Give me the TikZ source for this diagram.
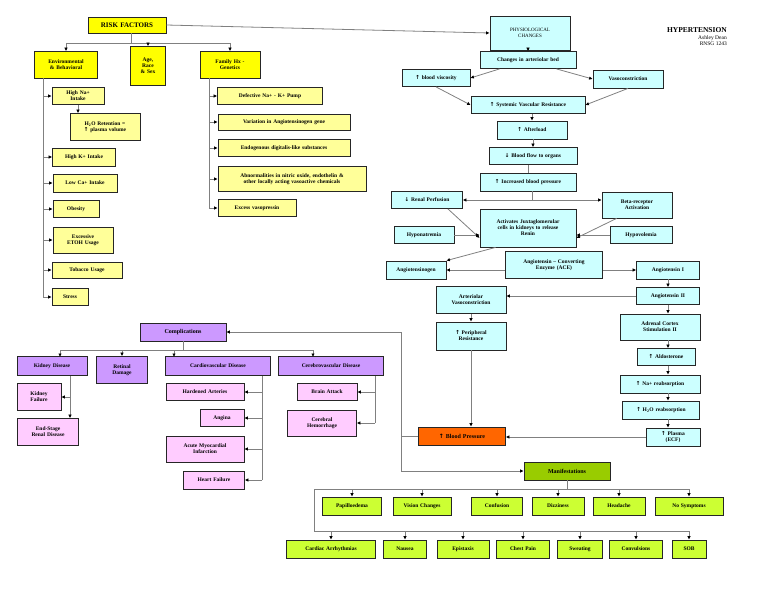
\documentclass[tikz,border=0pt]{standalone}
\usepackage{fontspec}
\setmainfont{Liberation Serif}
\newfontfamily\symf{DejaVu Sans}
\newcommand\uarr{{\symf ↑}}
\newcommand\darr{{\symf ↓}}
\usetikzlibrary{arrows.meta,shadows}
\definecolor{ylw}{HTML}{FFFF00}
\definecolor{lylw}{HTML}{FFFF99}
\definecolor{cyn}{HTML}{CCFFFF}
\definecolor{prp}{HTML}{CC99FF}
\definecolor{pnk}{HTML}{FFCCFF}
\definecolor{grn}{HTML}{99CC00}
\definecolor{lgrn}{HTML}{CCFF33}
\definecolor{org}{HTML}{FF6600}
\tikzset{
  bx/.style={draw=black!85,line width=0.8pt,align=center,inner xsep=0pt,inner ysep=1pt,
    font=\fontsize{5.5}{6}\selectfont\bfseries,
    drop shadow={shadow xshift=0.8pt,shadow yshift=-0.8pt,fill=black!60,opacity=1}},
  sz/.style 2 args={minimum width=#1pt,minimum height=#2pt,text width=#1pt},
  yb/.style={bx,fill=ylw}, lyb/.style={bx,fill=lylw},
  cb/.style={bx,fill=cyn}, pb/.style={bx,fill=prp}, pkb/.style={bx,fill=pnk},
  gb/.style={bx,fill=grn}, lgb/.style={bx,fill=lgrn}, ob/.style={bx,fill=org},
  ln/.style={draw=black!50,line width=0.8pt},
  arr/.style={ln,-{Latex[length=3.5pt,width=3.5pt,color=black]}},
}
\begin{document}
\begin{tikzpicture}[x=1pt,y=-1pt]
\useasboundingbox (0,0) rectangle (768,594);
% ---------- Risk factors
\node[yb,sz={78}{16},font=\fontsize{7}{8}\selectfont\bfseries] (rf) at (127,25) {RISK FACTORS};
\node[yb,sz={63}{27}] (env) at (66,65) {Environmental\\\& Behavioral};
\node[yb,sz={35}{39}] (age) at (148,66) {Age,\\Race\\\& Sex};
\node[yb,sz={60}{27}] (fam) at (230,65) {Family Hx -\\Genetics};
\coordinate (rfj) at (131,43);
\draw[ln] (rf.south -| rfj) -- (rfj);
\draw[ln] (env.north |- rfj) -- (fam.north |- rfj);
\draw[arr] (env.north |- rfj) -- (env.north);
\draw[arr] (age.north |- rfj) -- (age.north);
\draw[arr] (fam.north |- rfj) -- (fam.north);

\node[lyb,sz={52}{17}] (hna) at (78,96) {High Na+\\Intake};
\node[lyb,sz={70}{27}] (h2o) at (105,127) {H\textsubscript{2}O Retention =\\\uarr{} plasma volume};
\node[lyb,sz={63}{18}] (hk) at (84,157) {High K+ Intake};
\node[lyb,sz={64}{18}] (lca) at (85,183) {Low Ca+ Intake};
\node[lyb,sz={46}{17}] (obs) at (76,209) {Obesity};
\node[lyb,sz={60}{26}] (eto) at (83,240) {Excessive\\ETOH Usage};
\node[lyb,sz={70}{16}] (tob) at (87,270) {Tobacco Usage};
\node[lyb,sz={36}{17}] (str) at (70,297) {Stress};
\coordinate (envx) at (43,78);
\draw[ln] (envx) -- (envx |- str);
\foreach \n in {hna,hk,lca,obs,eto,tob,str} \draw[arr] (envx |- \n) -- (\n.west);
\draw[arr] (hna.south) -- (hna.south |- h2o.north);

\node[lyb,sz={105}{17}] (f1) at (270,96) {Defective Na+ - K+ Pump};
\node[lyb,sz={132}{16}] (f2) at (284,122) {Variation in Angiotensinogen gene};
\node[lyb,sz={132}{17}] (f3) at (284,148) {Endogenous digitalis-like substances};
\node[lyb,sz={148}{25}] (f4) at (292,179) {Abnormalities in nitric oxide, endothelin \&\\other locally acting vasoactive chemicals};
\node[lyb,sz={78}{17}] (f5) at (257,208) {Excess vasopressin};
\coordinate (famx) at (209,78);
\draw[ln] (famx) -- (famx |- f5);
\foreach \n in {f1,f2,f3,f4,f5} \draw[arr] (famx |- \n) -- (\n.west);

% ---------- Physiological changes
\node[cb,sz={80}{34},font=\fontsize{5}{6}\selectfont] (pc) at (530,33) {PHYSIOLOGICAL\\CHANGES};
\draw[arr] (rf.east) -- (pc.west);
\node[anchor=east,align=right,inner sep=0pt,font=\fontsize{5.5}{6.5}\selectfont] (ttl) at (727,37)
  {{\fontsize{7.5}{8}\selectfont\bfseries HYPERTENSION}\\Ashley Dean\\RNSG 1243};
\node[cb,sz={96}{17}] (cab) at (528,60) {Changes in arteriolar bed};
\node[cb,sz={68}{17}] (bv) at (436,78) {\uarr{} blood viscosity};
\node[cb,sz={70}{18}] (vc) at (628,79) {Vasoconstriction};
\node[cb,sz={114}{17}] (svr) at (528,105) {\uarr{} Systemic Vascular Resistance};
\node[cb,sz={70}{18}] (aft) at (532,130) {\uarr{} Afterload};
\node[cb,sz={88}{17}] (bfo) at (533,156) {\darr{} Blood flow to organs};
\node[cb,sz={96}{18}] (ibp) at (528,182) {\uarr{} Increased blood pressure};
\draw[arr] (pc.south -| cab) -- (cab.north);
\draw[arr] (cab.south west) ++(20,0) -- (bv.east);
\draw[arr] (cab.south east) ++(-20,0) -- (vc.west);
\draw[arr] (bv.south) -- (svr.west);
\draw[arr] (vc.south) -- (svr.east);
\draw[arr] (svr.south -| aft) -- (aft.north);
\draw[arr] (aft.south -| bfo) -- (bfo.north);
\draw[ln] (bfo.south -| ibp) -- (ibp.north);

\node[cb,sz={71}{17}] (rp) at (427,200) {\darr{} Renal Perfusion};
\node[cb,sz={70}{26}] (beta) at (637,205) {Beta-receptor\\Activation};
\node[cb,sz={96}{38}] (jg) at (528,228) {Activates Juxtaglomerular\\cells in kidneys to release\\Renin};
\node[cb,sz={60}{17}] (hna2) at (424,235) {Hyponatremia};
\node[cb,sz={62}{17}] (hvol) at (641,235) {Hypovolemia};
\coordinate (ibpj) at (532,200);
\draw[ln] (ibp.south -| ibpj) -- (ibpj);
\draw[arr] (ibpj) -- (rp.east);
\draw[arr] (ibpj) -- (beta.west |- ibpj);
\draw[arr] (rp.south east) ++(-15,0) -- (jg.west |- 0,238);
\draw[arr] (hna2.east) -- (jg.west |- hna2);
\draw[arr] (beta.south west) ++(15,0) -- (jg.east |- 0,238);
\draw[arr] (hvol.west) -- (jg.east |- hvol);

\node[cb,sz={60}{18}] (agn) at (416,270) {Angiotensinogen};
\node[cb,sz={97}{27}] (ace) at (554,265) {Angiotensin -- Converting\\Enzyme (ACE)};
\node[cb,sz={63}{18}] (a1) at (668,270) {Angiotensin I};
\node[cb,sz={63}{17}] (a2) at (668,296) {Angiotensin II};
\draw[arr] (jg.south west) ++(16,0) -- (agn.north east);
\draw[arr] (ace.west |- agn) -- (agn.east);
\draw[arr] (ace.east |- a1) -- (a1.west);
\draw[arr] (a1) -- (a2);

\node[cb,sz={70}{27}] (av) at (471,300) {Arteriolar\\Vasoconstriction};
\node[cb,sz={70}{28}] (pr) at (471,336) {\uarr{} Peripheral\\Resistance};
\node[cb,sz={80}{26}] (adr) at (660,327) {Adrenal Cortex\\Stimulation II};
\node[cb,sz={58}{17}] (ald) at (666,357) {\uarr{} Aldosterone};
\node[cb,sz={80}{18}] (na) at (660,384) {\uarr{} Na+ reabsorption};
\node[cb,sz={77}{18}] (wr) at (661,410) {\uarr{} H\textsubscript{2}O reabsorption};
\node[cb,sz={54}{18}] (pl) at (673,437) {\uarr{} Plasma\\(ECF)};
\node[ob,sz={87}{18},font=\fontsize{6}{7}\selectfont\bfseries] (bp) at (462,436) {\uarr{} Blood Pressure};
\draw[arr] (a2.west) -- (av.east |- a2);
\draw[arr] (av) -- (pr);
\draw[arr] (a2.south -| 668,0) -- (adr.north -| 668,0);
\draw[arr] (adr.south -| 668,0) -- (ald.north -| 668,0);
\draw[arr] (ald.south -| 668,0) -- (na.north -| 668,0);
\draw[arr] (na.south -| 668,0) -- (wr.north -| 668,0);
\draw[arr] (wr.south -| 668,0) -- (pl.north -| 668,0);
\draw[arr] (pr.south) -- (bp.north -| pr);
\draw[arr] (pl.west) -- (bp.east |- pl);

% ---------- Complications
\node[pb,sz={86}{18},font=\fontsize{6}{7}\selectfont\bfseries] (cmp) at (183,332) {Complications};
\node[gb,sz={86}{18},font=\fontsize{6}{7}\selectfont\bfseries] (man) at (567,471) {Manifestations};
\coordinate (bpx) at (401,436);
\draw[ln] (bp.west) -- (bpx);
\draw[ln] (bpx |- cmp) -- (bpx |- man);
\draw[arr] (bpx |- cmp) -- (cmp.east);
\draw[arr] (bpx |- man) -- (man.west);

\node[pb,sz={70}{19}] (kd) at (52,366) {Kidney Disease};
\node[pb,sz={51}{27}] (rd) at (122,370) {Retinal\\Damage};
\node[pb,sz={105}{19}] (cvd) at (218,366) {Cardiovascular Disease};
\node[pb,sz={105}{19}] (cbd) at (331,366) {Cerebrovascular Disease};
\coordinate (cj) at (183,350);
\draw[ln] (cmp.south) -- (cj);
\draw[ln] (60,350) -- (313,350);
\draw[arr] (60,350) -- (60,357);
\draw[arr] (rd.north |- cj) -- (rd.north);
\draw[arr] (174,350) -- (174,357);
\draw[arr] (313,350) -- (313,357);

\node[pkb,sz={44}{27}] (kf) at (39,397) {Kidney\\Failure};
\node[pkb,sz={61}{27}] (esrd) at (48,432) {End-Stage\\Renal Disease};
\coordinate (kx) at (70,376);
\draw[arr] (kx) -- (kx |- esrd.north);
\draw[arr] (kx |- kf) -- (kf.east);

\node[pkb,sz={78}{17}] (ha) at (205,392) {Hardened Arteries};
\node[pkb,sz={44}{17}] (ang) at (222,418) {Angina};
\node[pkb,sz={78}{26}] (ami) at (205,449) {Acute Myocardial\\Infarction};
\node[pkb,sz={61}{18}] (hf) at (214,480) {Heart Failure};
\coordinate (cvx) at (262,376);
\draw[ln] (cvx) -- (cvx |- hf);
\foreach \n in {ha,ang,ami,hf} \draw[arr] (cvx |- \n) -- (\n.east);

\node[pkb,sz={60}{17}] (ba) at (327,392) {Brain Attack};
\node[pkb,sz={69}{26}] (ch) at (322,423) {Cerebral\\Hemorrhage};
\coordinate (cbx) at (375,376);
\draw[ln] (cbx) -- (cbx |- ch);
\foreach \n in {ba,ch} \draw[arr] (cbx |- \n) -- (\n.east);

% ---------- Manifestations
\node[lgb,sz={59}{18}] (m1) at (352,506) {Papilloedema};
\node[lgb,sz={58}{18}] (m2) at (422,506) {Vision Changes};
\node[lgb,sz={51}{18}] (m3) at (497,506) {Confusion};
\node[lgb,sz={52}{18}] (m4) at (558,506) {Dizziness};
\node[lgb,sz={52}{18}] (m5) at (619,506) {Headache};
\node[lgb,sz={68}{18}] (m6) at (689,506) {No Symptoms};
\node[lgb,sz={89}{18}] (n1) at (331,549) {Cardiac Arrhythmias};
\node[lgb,sz={43}{18}] (n2) at (405,549) {Nausea};
\node[lgb,sz={52}{18}] (n3) at (463,549) {Epistaxis};
\node[lgb,sz={53}{18}] (n4) at (523,549) {Chest Pain};
\node[lgb,sz={45}{18}] (n5) at (580,549) {Sweating};
\node[lgb,sz={53}{18}] (n6) at (636,549) {Convulsions};
\node[lgb,sz={34}{18}] (n7) at (689,549) {SOB};
\coordinate (mj) at (567,489);
\coordinate (mj2) at (314,531);
\draw[ln] (man.south) -- (mj);
\draw[ln] (314,489) -- (690,489);
\draw[ln] (314,489) -- (mj2) -- (690,531);
\foreach \n in {m1,m2,m3,m4,m5,m6} \draw[arr] (\n.north |- mj) -- (\n.north);
\foreach \n in {n1,n2,n3,n4,n5,n6,n7} \draw[arr] (\n.north |- mj2) -- (\n.north);
\end{tikzpicture}
\end{document}
